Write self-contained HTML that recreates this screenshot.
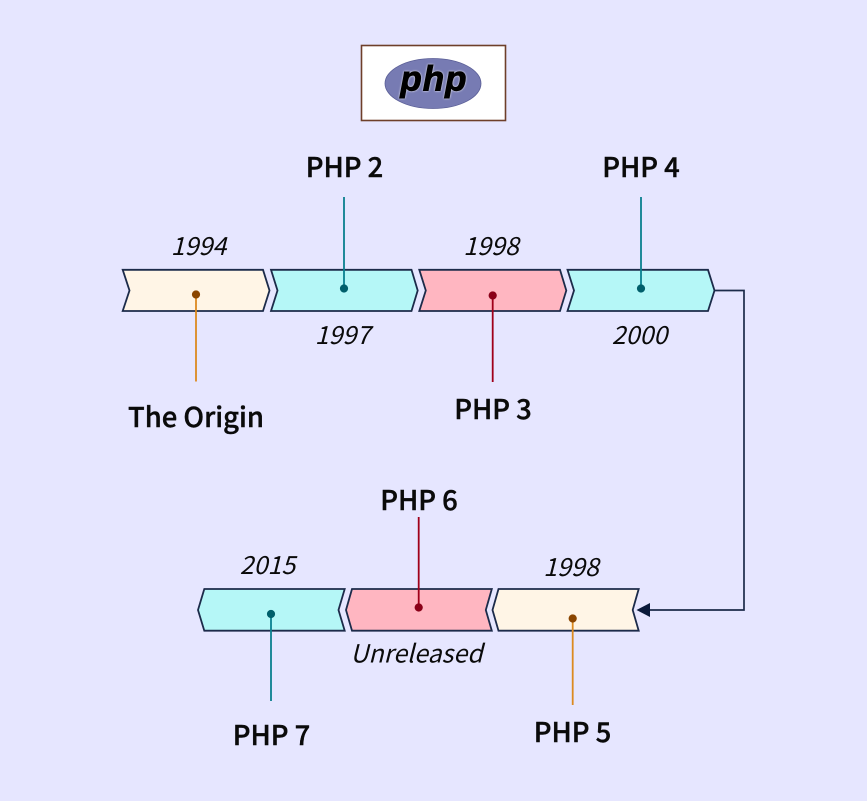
<!DOCTYPE html>
<html><head><meta charset="utf-8"><style>
html,body{margin:0;padding:0;background:#e6e6ff;width:867px;height:801px;overflow:hidden}
svg{display:block}
text{font-family:"Noto Sans CJK JP","Liberation Sans",sans-serif;text-anchor:middle;fill:#0a0a0a}
.b{font-size:27.4px;font-weight:500;stroke:#0a0a0a;stroke-width:.4px}
.y{font-size:25px;font-style:italic;font-weight:400}
.s{stroke:#1c2b4a;stroke-width:1.8;stroke-linejoin:miter}
</style></head><body>
<svg width="867" height="801" viewBox="0 0 867 801" xmlns="http://www.w3.org/2000/svg">
<rect width="867" height="801" fill="#e6e6ff"/>
<rect x="361.5" y="45.5" width="144" height="75" fill="#fff" stroke="#6e3f2a" stroke-width="1.6"/>
<ellipse cx="433" cy="83.5" rx="48" ry="25" fill="#777bb3" stroke="#5a5e96" stroke-width=".8"/>
<text x="434" y="90.5" style="font-family:'Liberation Sans',sans-serif;font-size:35px;font-weight:700;font-style:italic;fill:#000;stroke:#000;stroke-width:.9px;letter-spacing:1px;filter:drop-shadow(0 0 1px #fff)">php</text>

<polygon class="s" fill="#fff5e6" points="122.7,269.8 263,269.8 269.5,290.5 263,311 122.7,311 129.5,290.5"/>
<polygon class="s" fill="#b5f7f7" points="271,269.8 411.5,269.8 417.7,290.5 411.5,311 271,311 277.5,290.5"/>
<polygon class="s" fill="#ffb6c1" points="419.3,269.8 560,269.8 566.3,290.5 560,311 419.3,311 425.8,290.5"/>
<polygon class="s" fill="#b5f7f7" points="567.5,269.8 708,269.8 714.5,290.5 708,311 567.5,311 574,290.5"/>

<polygon class="s" fill="#b5f7f7" points="198,610 204.3,589 344.7,589 338.5,610 344.7,630.7 204.3,630.7"/>
<polygon class="s" fill="#ffb6c1" points="346,610 352,589 491.8,589 485.8,610 491.8,630.7 352,630.7"/>
<polygon class="s" fill="#fff5e6" points="492.5,610 498.5,589 638.7,589 632.7,610 638.7,630.7 498.5,630.7"/>

<path d="M714.5 290.5H744V610H650" fill="none" stroke="#1c2b4a" stroke-width="1.7"/>
<polygon points="636.5,610 650,603 650,617" fill="#0b1a3a"/>

<g stroke-width="1.8" fill="none">
<path d="M196 294V381.5" stroke="#dc8a20"/>
<path d="M344 197V288" stroke="#0a808f"/>
<path d="M492.7 295V382" stroke="#a0001a"/>
<path d="M641 197V288" stroke="#0a808f"/>
<path d="M271 614V701" stroke="#0a808f"/>
<path d="M418.7 517V607" stroke="#a0001a"/>
<path d="M572.7 618V705" stroke="#dc8a20"/>
</g>
<circle cx="196" cy="294.5" r="4.1" fill="#8a4500"/>
<circle cx="344" cy="288.5" r="4.1" fill="#005f6b"/>
<circle cx="492.7" cy="295.5" r="4.1" fill="#8a0018"/>
<circle cx="641" cy="288.5" r="4.1" fill="#005f6b"/>
<circle cx="271" cy="614" r="4.1" fill="#005f6b"/>
<circle cx="418.7" cy="607.5" r="4.1" fill="#8a0018"/>
<circle cx="572.7" cy="618.5" r="4.1" fill="#8a4500"/>

<text class="y" x="198.5" y="255">1994</text>
<text class="y" x="342.5" y="344">1997</text>
<text class="y" x="491" y="255">1998</text>
<text class="y" x="639.5" y="344">2000</text>
<text class="y" x="267.5" y="574">2015</text>
<text class="y" x="416.5" y="662.5">Unreleased</text>
<text class="y" x="571" y="576">1998</text>

<text class="b" x="344.5" y="177">PHP 2</text>
<text class="b" x="641" y="177">PHP 4</text>
<text class="b" x="196" y="427">The Origin</text>
<text class="b" x="493" y="419">PHP 3</text>
<text class="b" x="419" y="510">PHP 6</text>
<text class="b" x="271.5" y="745">PHP 7</text>
<text class="b" x="572.5" y="742">PHP 5</text>
</svg>
</body></html>
